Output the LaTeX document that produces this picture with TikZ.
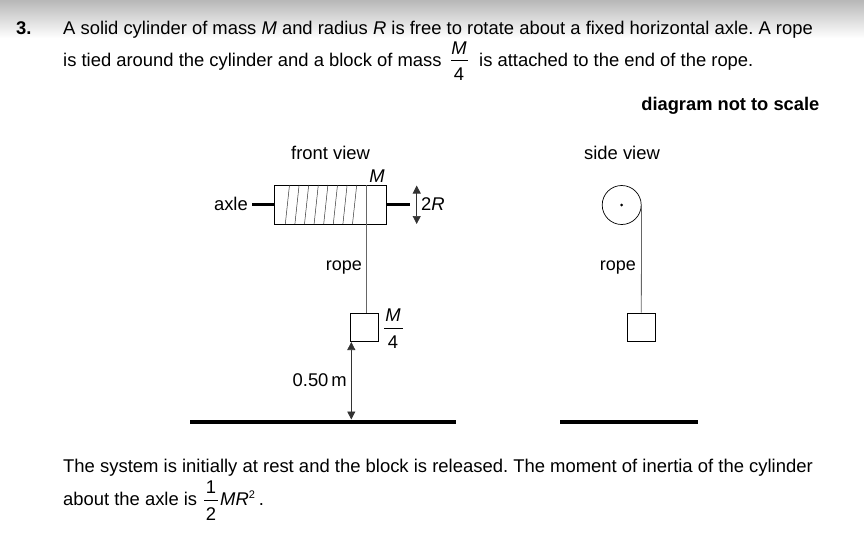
\documentclass[tikz,border=0pt]{standalone}
\usepackage{fontspec}
\setmainfont{Liberation Sans}
\usepackage{tikz}
\usetikzlibrary{positioning, arrows.meta}

\tikzset{
    line/.style={anchor=base west, inner sep=0pt, font=\fontsize{18.4}{22}\selectfont\frenchspacing},
    label/.style={inner sep=0pt, font=\fontsize{18.4}{22}\selectfont},
    box/.style={draw, line width=0.8pt, inner sep=0pt, fill=white},
    rope/.style={draw=black!60, line width=0.8pt},
    shaft/.style={line width=3pt},
    ground/.style={line width=4pt},
    span/.style={black!80, line width=0.7pt, {Triangle[width=8pt,length=8pt]}-{Triangle[width=8pt,length=8pt]}},
}

\begin{document}
\begin{tikzpicture}[x=1pt, y=-1pt]
    \useasboundingbox (0,0) rectangle (864,536);
    \fill[top color=black!28, bottom color=white] (0,0) rectangle (864,38);

    % question text
    \node[line, font=\fontsize{18.4}{22}\selectfont\bfseries] (number) at (16,34) {3.};
    \node[line] (text1) at (63,34) {A solid cylinder of mass \textit{M} and radius \textit{R} is free to rotate about a fixed horizontal axle. A rope};
    \node[line] (text2) at (63,66) {is tied around the cylinder and a block of mass};
    \node[label] (fracM) at (459,48) {\textit{M}};
    \coordinate (fracMa) at (451,60);
    \coordinate (fracMb) at (468,60);
    \draw[line width=0.8pt] (fracMa) -- (fracMb);
    \node[label] (fracF) at (459,74) {4};
    \node[line] (text3) at (479,66) {is attached to the end of the rope.};
    \node[line, anchor=base east, font=\fontsize{18.3}{22}\selectfont\bfseries] (scale) at (819.5,110.5) {diagram not to scale};

    % front view
    \node[label] (front) at (330.5,153) {front view};
    \node[box, minimum width=112pt, minimum height=39pt] (cyl) at (330.7,204.6) {};
    \foreach \i in {0,...,7} {
        \draw[line width=0.5pt, black!80] ({285.3+9.6*\i},224) -- ({289.5+9.6*\i},185);
    }
    \node[label] (massM) at (377,176) {\textit{M}};
    \node[label, anchor=east] (axle) at (248,203.5) {axle};
    \coordinate (axleL) at (252,204);
    \coordinate (axleR) at (410,204);
    \draw[shaft] (axleL) -- (axleL -| cyl.west);
    \draw[shaft] (axleR -| cyl.east) -- (axleR);
    \coordinate (dia1) at (416.7,185.5);
    \coordinate (dia2) at (416.7,224);
    \draw[span] (dia1) -- (dia2);
    \node[label, anchor=west] (dia) at (421,204.5) {2\textit{R}};

    \node[box, minimum size=28pt] (block) at (364,327) {};
    \coordinate (ropeTop) at (366.5,185);
    \draw[rope] (ropeTop) -- (ropeTop |- block.north);
    \node[label, anchor=east, font=\fontsize{18}{22}\selectfont] (ropeF) at (362,267.5) {rope};
    \node[label] (blockM) at (393,315) {\textit{M}};
    \coordinate (blockMa) at (384,328.7);
    \coordinate (blockMb) at (403,328.7);
    \draw[line width=0.8pt] (blockMa) -- (blockMb);
    \node[label] (blockF) at (393,342) {4};

    \coordinate (floorL1) at (190,421.5);
    \coordinate (floorL2) at (456,421.5);
    \draw[ground] (floorL1) -- (floorL2);
    \coordinate (gapTop) at (351.3,342);
    \coordinate (gapEnd) at (351.3,419.5);
    \draw[span] (gapTop) -- (gapEnd);
    \node[label, anchor=east] (gap) at (347,380) {0.50\hspace{3pt}m};

    % side view
    \node[label] (side) at (622,153) {side view};
    \node[draw, circle, line width=0.7pt, minimum size=39pt, inner sep=0pt] (disc) at (621.7,205) {};
    \node[circle, fill=black, minimum size=3pt, inner sep=0pt] (centre) at (disc.center) {};
    \node[box, minimum size=28pt] (weight) at (641.3,327) {};
    \draw[rope] (disc.east) -- (weight.north);
    \node[label, anchor=east, font=\fontsize{18}{22}\selectfont] (ropeS) at (636,267.5) {rope};
    \coordinate (floorR1) at (560,421.5);
    \coordinate (floorR2) at (698,421.5);
    \draw[ground] (floorR1) -- (floorR2);

    % closing text
    \node[line, font=\fontsize{18.45}{22}\selectfont\frenchspacing] (text4) at (63,472) {The system is initially at rest and the block is released. The moment of inertia of the cylinder};
    \node[line] (text5) at (63,505) {about the axle is};
    \node[label] (half1) at (211,487) {1};
    \coordinate (halfa) at (204,500);
    \coordinate (halfb) at (218,500);
    \draw[line width=0.8pt] (halfa) -- (halfb);
    \node[label] (half2) at (211,514) {2};
    \node[line] (inertia) at (220,505) {\textit{MR}\raisebox{6.5pt}{\fontsize{11}{12}\selectfont 2}\hspace{4pt}.};
\end{tikzpicture}
\end{document}
